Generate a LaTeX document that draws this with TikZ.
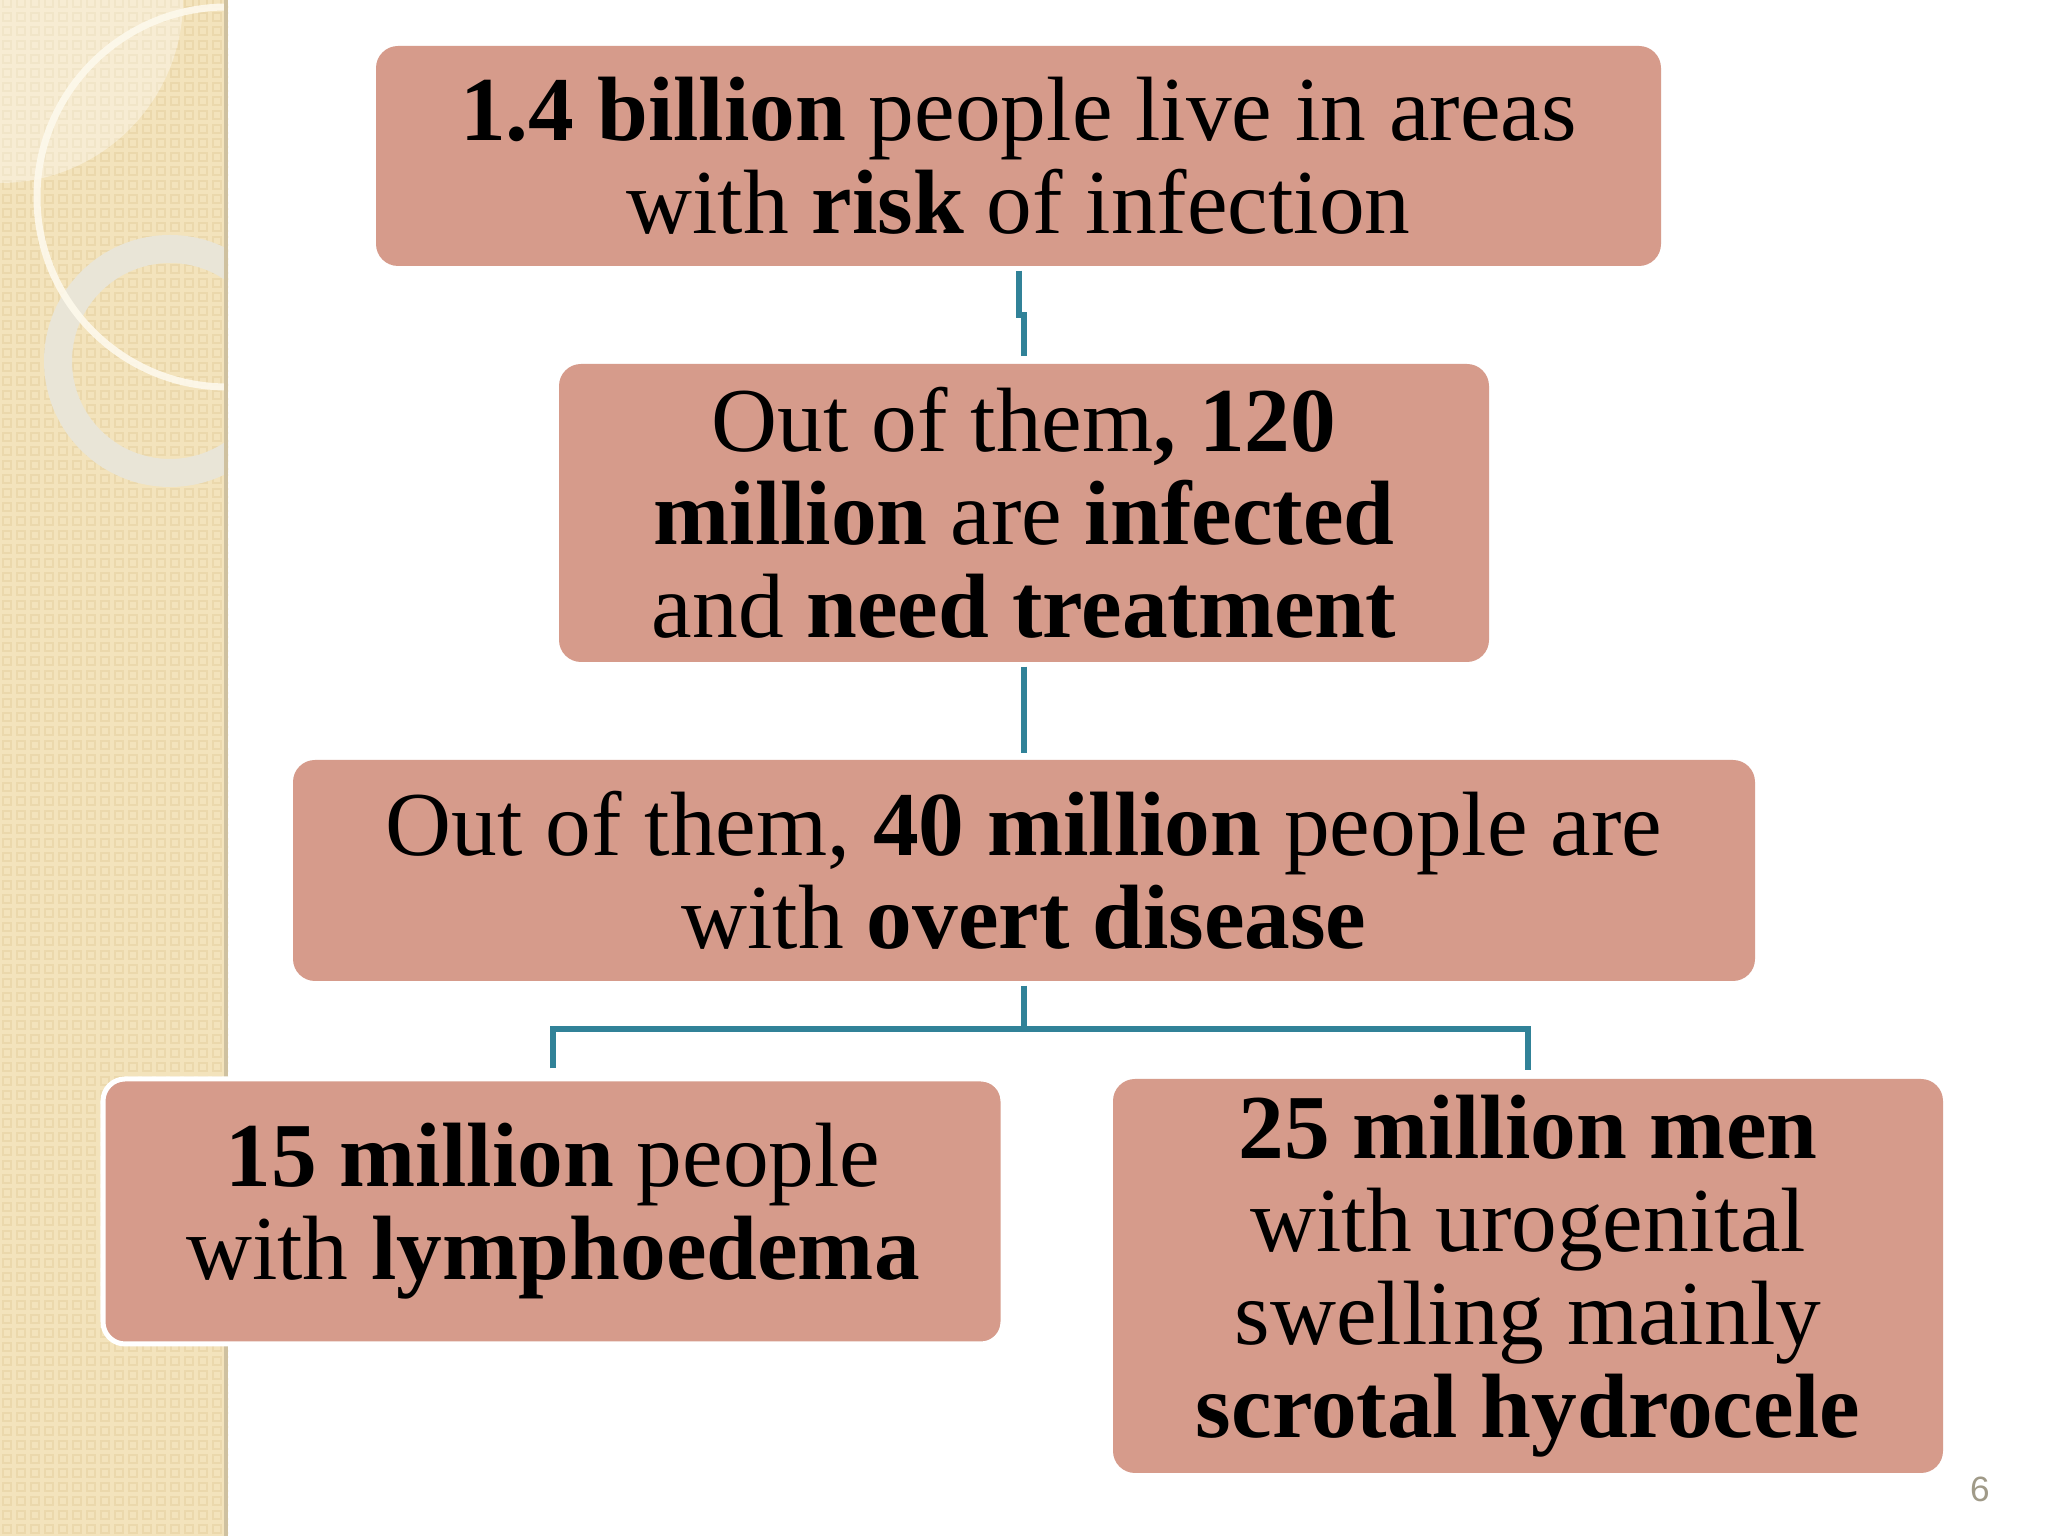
\documentclass[tikz,border=0pt]{standalone}
\usepackage{fontspec}
\setmainfont{Liberation Serif}
\newfontfamily\numfont{Liberation Sans}
\usetikzlibrary{calc}

\definecolor{boxpink}{RGB}{214,155,139}
\definecolor{linkteal}{RGB}{49,130,152}
\definecolor{stripbeige}{RGB}{243,227,188}
\definecolor{stripdot}{RGB}{235,216,172}
\definecolor{ringgray}{RGB}{233,229,215}
\definecolor{ringcream}{RGB}{253,249,236}
\definecolor{pagegray}{RGB}{160,154,136}

\begin{document}
\begin{tikzpicture}

    \tikzstyle{fact}=[rectangle, rounded corners=0.22cm, fill=boxpink, inner sep=0pt, align=center, font=\fontsize{26}{26.5}\selectfont];
    \tikzstyle{link}=[draw=linkteal, line width=0.06cm];

    \useasboundingbox (0,0) rectangle (20.48,15.36);
    \fill[white] (0,0) rectangle (20.48,15.36);

    % side strip
    \begin{scope}
    \clip (0,0) rectangle (2.28,15.36);
    \fill[stripbeige] (0,0) rectangle (2.28,15.36);
    \foreach \i in {0,...,16}
        \foreach \j in {0,...,110}
            \draw[stripdot, line width=0.015cm] (\i*0.14+0.03, \j*0.14+0.03) rectangle ++(0.08,0.08);
    \fill[white, opacity=0.35] (0,15.36) circle (1.83);
    \draw[ringgray, line width=0.28cm] (1.70,11.75) circle (1.12);
    \draw[ringcream, line width=0.07cm, opacity=0.9] (2.27,13.39) circle (1.90);
    \draw[black!15!stripbeige, line width=0.04cm] (2.26,0) -- (2.26,15.36);
    \end{scope}

    \node[fact, minimum width=12.85cm, minimum height=2.20cm] (risk) at (10.185,13.80) {\textbf{1.4 billion} people live in areas\\with \textbf{risk} of infection};
    \node[fact, minimum width=9.30cm, minimum height=2.98cm] (infected) at (10.24,10.23) {Out of them\textbf{, 120}\\\textbf{million} are \textbf{infected}\\and \textbf{need treatment}};
    \node[fact, minimum width=14.62cm, minimum height=2.21cm] (overt) at (10.24,6.655) {Out of them, \textbf{40 million} people are\\with \textbf{overt disease}};
    \node[fact, draw=white, line width=0.05cm, minimum width=9.00cm, minimum height=2.65cm] (lymph) at (5.53,3.245) {\textbf{15 million} people\\with \textbf{lymphoedema}};
    \node[fact, minimum width=8.30cm, minimum height=3.94cm] (hydro) at (15.28,2.60) {\textbf{25 million men}\\with urogenital\\swelling mainly\\\textbf{scrotal hydrocele}};

    \coordinate (jog) at (10.24,12.21);
    \coordinate (split) at (10.24,5.07);

    \draw[link] ([yshift=-0.04cm]risk.south) |- (jog) -- ([yshift=0.07cm]infected.north);
    \draw[link] ([yshift=-0.04cm]infected.south) -- ([yshift=0.06cm]overt.north);
    \draw[link] ([yshift=-0.04cm]overt.south) -- (split);
    \draw[link] ([yshift=0.08cm]lymph.north) |- (split) -| ([yshift=0.08cm]hydro.north);

    \node[text=pagegray, font=\numfont\fontsize{10}{12}\selectfont] (page) at (19.80,0.47) {6};
\end{tikzpicture}
\end{document}
